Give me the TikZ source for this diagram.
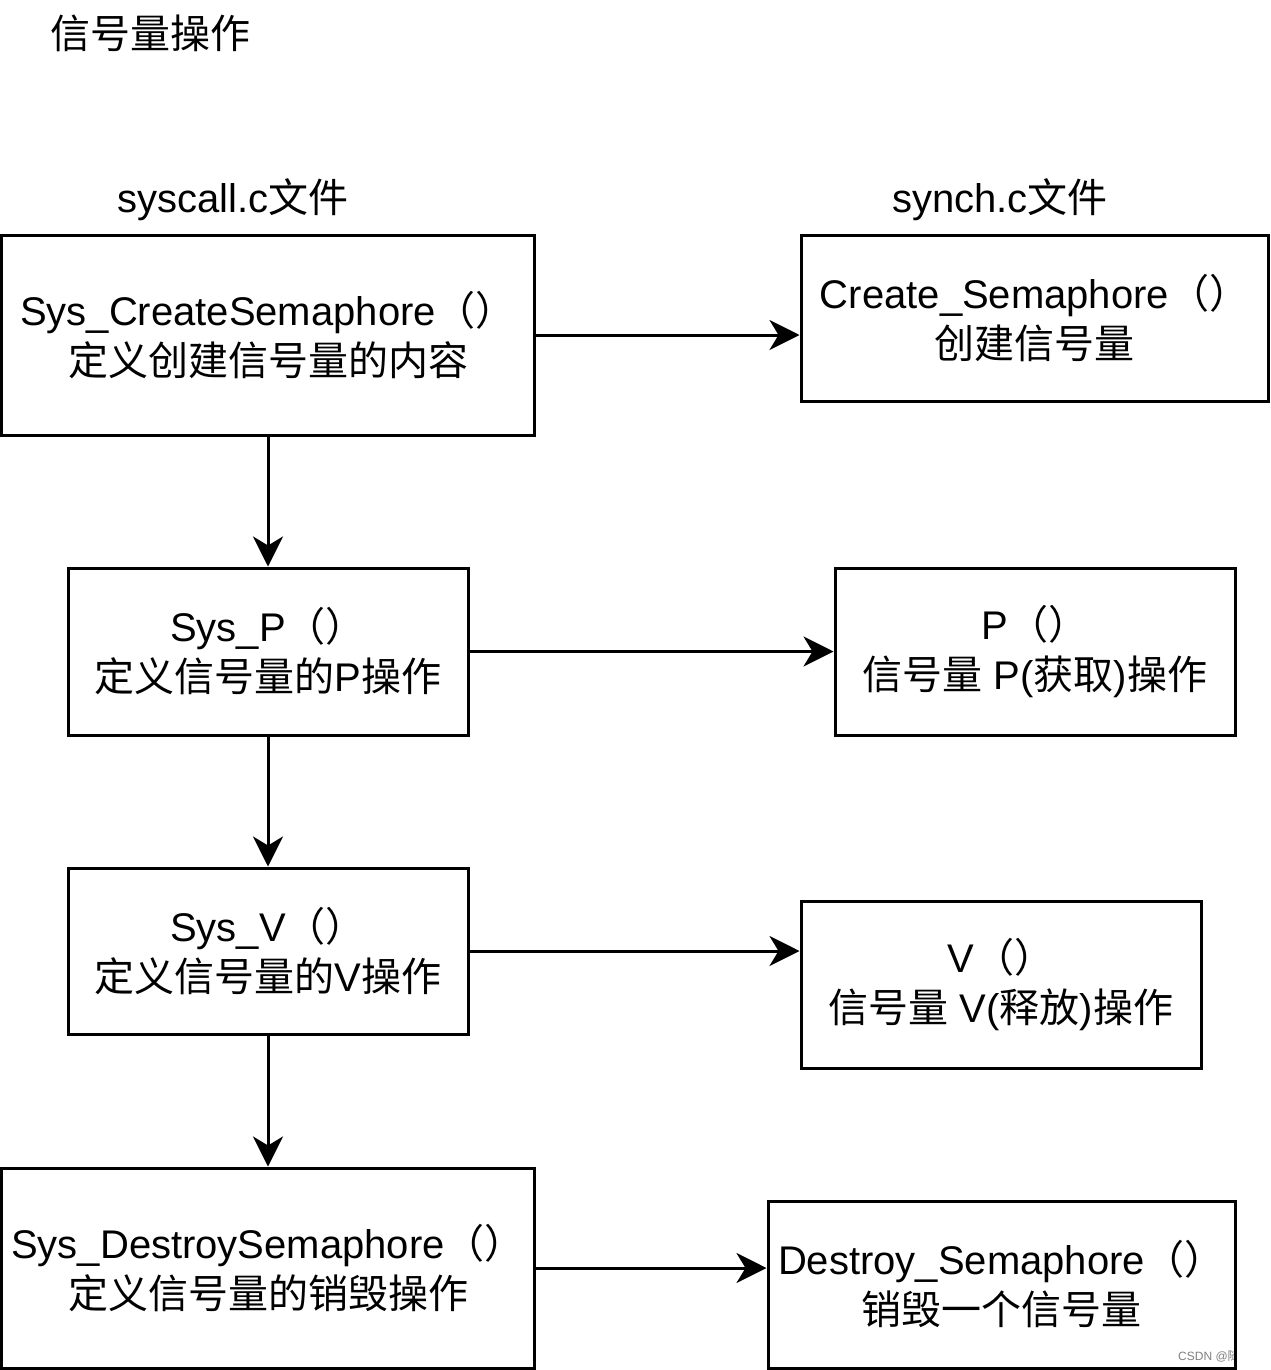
\documentclass[tikz,border=0pt]{standalone}
\usepackage{fontspec}
\setmainfont{Liberation Sans}
\newfontfamily\cjk{Noto Sans CJK SC}
\newcommand\zh[1]{{\cjk #1}}
\usetikzlibrary{arrows.meta}
\begin{document}
\begin{tikzpicture}[x=1pt,y=-1pt,
  every node/.style={font=\fontsize{40pt}{50pt}\selectfont, inner sep=0pt},
  box/.style n args={2}{draw, line width=3pt, minimum width=#1pt, minimum height=#2pt, align=center},
  conn/.style={line width=3pt, -{Stealth[length=30pt,width=30pt,inset=9pt]}},
  lbl/.style={anchor=center}]
\useasboundingbox (0,0) rectangle (1270,1370);
\fill[white] (0,0) rectangle (1270,1370);

\node[lbl] (title) at (150,33) {\zh{信号量操作}};
\node[lbl] (lsys) at (233,200) {syscall.c\zh{文件}};
\node[lbl] (lsyn) at (1000,200) {synch.c\zh{文件}};

\begin{scope}
\clip (1170,1340) rectangle (1236,1370);
\node[anchor=base west, font=\fontsize{12pt}{14pt}\selectfont, text=gray] (wm) at (1178,1360) {CSDN @\zh{随}};
\end{scope}

\node[box={533}{200}] (b1) at (268,335) {Sys\_CreateSemaphore\zh{（）}\\\zh{定义创建信号量的内容}};
\node[box={467}{166}] (b2) at (1034.5,318) {Create\_Semaphore\zh{（）}\\\zh{创建信号量}};
\node[box={400}{167}] (b3) at (268,651.5) {Sys\_P\zh{（）}\\\zh{定义信号量的}P\zh{操作}};
\node[box={400}{167}] (b4) at (1035,651.5) {P\zh{（）}\\\zh{信号量} P(\zh{获取})\zh{操作}};
\node[box={400}{166}] (b5) at (268,951) {Sys\_V\zh{（）}\\\zh{定义信号量的}V\zh{操作}};
\node[box={400}{167}] (b6) at (1001,984.5) {V\zh{（）}\\\zh{信号量} V(\zh{释放})\zh{操作}};
\node[box={533}{200}] (b7) at (268,1268) {Sys\_DestroySemaphore\zh{（）}\\\zh{定义信号量的销毁操作}};
\node[box={467}{167}] (b8) at (1001.5,1284.5) {Destroy\_Semaphore\zh{（）}\\\zh{销毁一个信号量}};

\draw[conn] (b1.east) -- (b1.east -| b2.west);
\draw[conn] (b3.east) -- (b3.east -| b4.west);
\draw[conn] (b5.east) -- (b5.east -| b6.west);
\draw[conn] (b7.east) -- (b7.east -| b8.west);
\draw[conn] (b1.south) -- (b3.north);
\draw[conn] (b3.south) -- (b5.north);
\draw[conn] (b5.south) -- (b7.north);
\end{tikzpicture}
\end{document}
